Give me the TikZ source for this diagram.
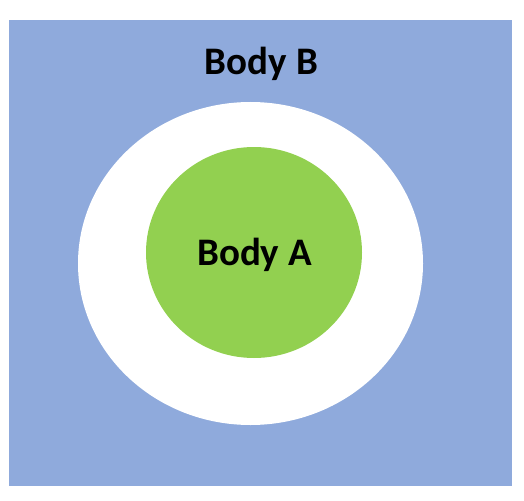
\documentclass[tikz,border=0pt]{standalone}
\usepackage{fontspec}
\setmainfont{Carlito}
\definecolor{bodyblue}{HTML}{8FAADC}
\definecolor{bodygreen}{HTML}{92D050}
\begin{document}
\begin{tikzpicture}[x=1pt,y=-1pt,
  lbl/.style={font=\fontsize{39}{46}\selectfont\bfseries, text=black, inner sep=0pt, anchor=base}]
\useasboundingbox (0,0) rectangle (524,500);
\fill[bodyblue] (9,20) rectangle (512,485.5);
\fill[white] (250.5,263.5) ellipse [x radius=172.5, y radius=161.5];
\fill[bodygreen] (254,252.5) ellipse [x radius=108, y radius=105.5];
\node[lbl] (b) at (261.4,74.3) {Body B};
\node[lbl] (a) at (254.5,265.3) {Body A};
\end{tikzpicture}
\end{document}
